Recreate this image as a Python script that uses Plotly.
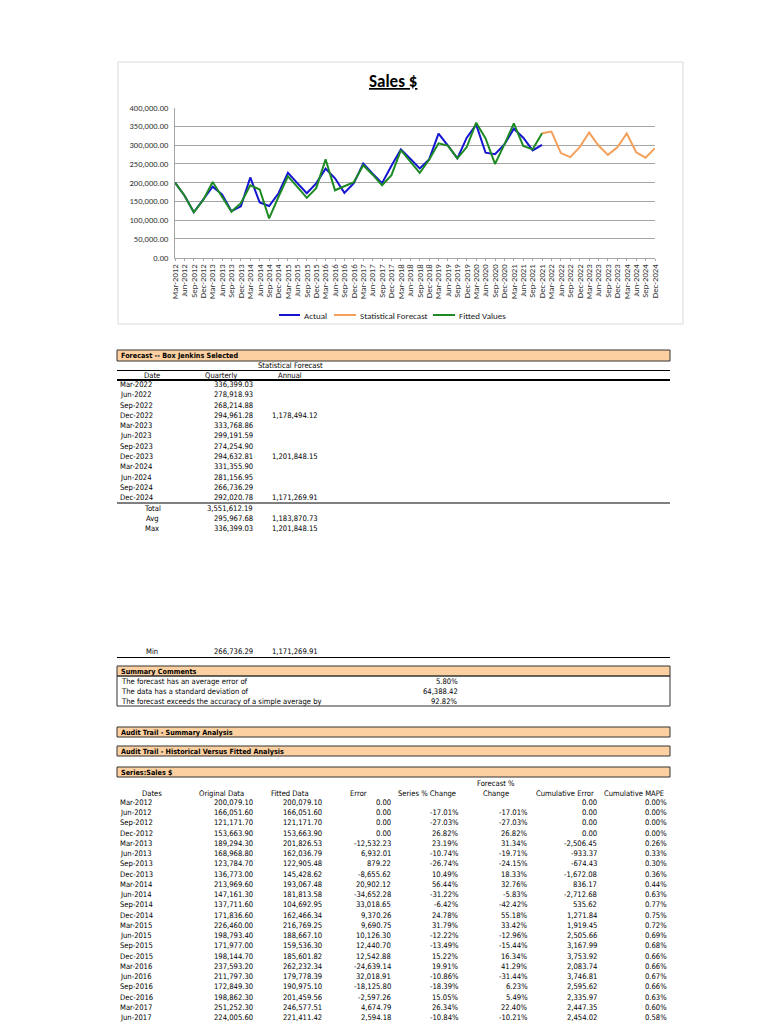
import plotly.graph_objects as go

# the page body adds an 8px margin, so the figure is 760x1016 and
# page coordinates are shifted by 8px when converted to paper units
OFF = 8
W, H = 760, 1016

# ---------------- chart data ----------------
quarters = [
    "Mar-2012", "Jun-2012", "Sep-2012", "Dec-2012",
    "Mar-2013", "Jun-2013", "Sep-2013", "Dec-2013",
    "Mar-2014", "Jun-2014", "Sep-2014", "Dec-2014",
    "Mar-2015", "Jun-2015", "Sep-2015", "Dec-2015",
    "Mar-2016", "Jun-2016", "Sep-2016", "Dec-2016",
    "Mar-2017", "Jun-2017", "Sep-2017", "Dec-2017",
    "Mar-2018", "Jun-2018", "Sep-2018", "Dec-2018",
    "Mar-2019", "Jun-2019", "Sep-2019", "Dec-2019",
    "Mar-2020", "Jun-2020", "Sep-2020", "Dec-2020",
    "Mar-2021", "Jun-2021", "Sep-2021", "Dec-2021",
    "Mar-2022", "Jun-2022", "Sep-2022", "Dec-2022",
    "Mar-2023", "Jun-2023", "Sep-2023", "Dec-2023",
    "Mar-2024", "Jun-2024", "Sep-2024", "Dec-2024",
]

actual = [
    200079.10, 166051.60, 121171.70, 153663.90,
    189294.30, 168968.80, 123784.70, 136773.00,
    213969.60, 147161.30, 137711.60, 171836.60,
    226460.00, 198793.40, 171977.00, 198144.70,
    237593.20, 211797.30, 172849.30, 198862.30,
    251252.30, 224005.60, 198663.00, 245000.00,
    289000.00, 264000.00, 238000.00, 262000.00,
    331000.00, 299000.00, 265000.00, 320000.00,
    355000.00, 280000.00, 276000.00, 302000.00,
    344000.00, 320000.00, 286000.00, 301000.00,
]

fitted = [
    200079.10, 166051.60, 121171.70, 153663.90,
    201826.53, 162036.79, 122905.48, 145428.62,
    193067.48, 181813.58, 104692.95, 162466.34,
    216769.25, 188667.10, 159536.30, 185601.82,
    262232.34, 179778.39, 190975.10, 201459.56,
    246577.51, 221411.42, 193312.45, 220000.00,
    287000.00, 258000.00, 226000.00, 261000.00,
    305000.00, 299000.00, 265000.00, 295000.00,
    360000.00, 318000.00, 250000.00, 302000.00,
    358000.00, 298000.00, 289000.00, 332000.00,
]

forecast = [
    336399.03, 278918.93, 268214.88, 294961.28,
    333768.86, 299191.59, 274254.90, 294632.81,
    331355.90, 281156.95, 266736.29, 292020.78,
]

series_names = ["Actual", "Statistical Forecast", "Fitted Values"]

# ---------------- forecast table data ----------------
fc_dates = quarters[40:]
fc_annual = ["", "", "", "1,178,494.12", "", "", "", "1,201,848.15", "", "", "", "1,171,269.91"]
fc_stats_labels = ["Total", "Avg", "Max"]
fc_stats_quarterly = ["3,551,612.19", "295,967.68", "336,399.03"]
fc_stats_annual = ["", "1,183,870.73", "1,201,848.15"]
fc_min = ["Min", "266,736.29", "1,171,269.91"]

summary_text = [
    "The forecast has an average error of",
    "The data has a standard deviation of",
    "The forecast exceeds the accuracy of a simple average by",
]
summary_vals = ["5.80%", "64,388.42", "92.82%"]

# ---------------- audit table data ----------------
audit_error = [0.00, 0.00, 0.00, 0.00, -12532.23, 6932.01, 879.22, -8655.62,
               20902.12, -34652.28, 33018.65, 9370.26, 9690.75, 10126.30, 12440.70,
               12542.88, -24639.14, 32018.91, -18125.80, -2597.26, 4674.79, 2594.18]
audit_series_pct = [None, -17.01, -27.03, 26.82, 23.19, -10.74, -26.74, 10.49, 56.44,
                    -31.22, -6.42, 24.78, 31.79, -12.22, -13.49, 15.22, 19.91, -10.86,
                    -18.39, 15.05, 26.34, -10.84]
audit_fc_pct = [None, -17.01, -27.03, 26.82, 31.34, -19.71, -24.15, 18.33, 32.76,
                -5.83, -42.42, 55.18, 33.42, -12.96, -15.44, 16.34, 41.29, -31.44,
                6.23, 5.49, 22.40, -10.21]
audit_cum_error = [0.00, 0.00, 0.00, 0.00, -2506.45, -933.37, -674.43, -1672.08, 836.17,
                   -2712.68, 535.62, 1271.84, 1919.45, 2505.66, 3167.99, 3753.92, 2083.74,
                   3746.81, 2595.62, 2335.97, 2447.35, 2454.02]
audit_mape = [0.00, 0.00, 0.00, 0.00, 0.26, 0.33, 0.30, 0.36, 0.44, 0.63, 0.77, 0.75,
              0.72, 0.69, 0.68, 0.66, 0.66, 0.67, 0.66, 0.63, 0.60, 0.58]
audit_headers = ["Dates", "Original Data", "Fitted Data", "Error", "Series % Change",
                 "Change", "Cumulative Error", "Cumulative MAPE"]

# ---------------- styling ----------------
BLUE = "#1414D2"
ORANGE = "#F5A05A"
GREEN = "#1E8A24"
COLORS = [BLUE, ORANGE, GREEN]
GRID = "#A6A6A6"
BAR_FILL = "#FCD0A1"
CHART_FONT = "Carlito, Calibri, Lato, sans-serif"
TABLE_FONT = "Liberation Sans Narrow, Arial Narrow, DejaVu Sans Condensed, sans-serif"
TSIZE = 7.6
BSIZE = 7.2


def px(x):
    return (x - OFF) / W


def py(y):
    return 1 - (y - OFF) / H


fig = go.Figure()
fig.add_trace(go.Scatter(x=quarters[:40], y=actual, name=series_names[0], mode="lines",
                         line=dict(color=BLUE, width=2)))
fig.add_trace(go.Scatter(x=quarters[39:], y=[fitted[-1]] + forecast,
                         name=series_names[1], mode="lines",
                         line=dict(color=ORANGE, width=2)))
fig.add_trace(go.Scatter(x=quarters[:40], y=fitted, name=series_names[2], mode="lines",
                         line=dict(color=GREEN, width=2)))

annotations = []
shapes = []


def text(x, y, s, anchor="left", bold=False, size=TSIZE, family=TABLE_FONT, color="#000"):
    if bold:
        s = "<b>" + s + "</b>"
    annotations.append(dict(x=px(x), y=py(y), xref="paper", yref="paper", text=s,
                            showarrow=False, xanchor=anchor, yanchor="middle",
                            font=dict(family=family, size=size, color=color)))


def hline(x0, x1, y, width=1, color="#000"):
    shapes.append(dict(type="line", xref="paper", yref="paper", x0=px(x0), x1=px(x1),
                       y0=py(y), y1=py(y), line=dict(color=color, width=width)))


def rect(x0, y0, x1, y1, fill=None, color="#000", width=1):
    shapes.append(dict(type="rect", xref="paper", yref="paper", x0=px(x0), x1=px(x1),
                       y0=py(y1), y1=py(y0), line=dict(color=color, width=width),
                       fillcolor=fill if fill else "rgba(0,0,0,0)", layer="below"))


# chart frame and title
rect(118, 62, 683, 324, color="#D9D9D9")
text(393, 82, "<u>Sales $</u>", anchor="center", bold=True, size=17, family=CHART_FONT)

# legend (drawn as line keys + labels)
legend_keys = [(279, 300), (334, 356), (433, 455)]
for (x0, x1), name, col in zip(legend_keys, series_names, COLORS):
    hline(x0, x1, 315, width=2, color=col)
    text(x1 + 2, 315, name, size=9, family=CHART_FONT, color="#222")

# ---------------- forecast table ----------------
L, R = 117, 670
rect(L, 350, R, 361, fill=BAR_FILL, color="#333")
text(119, 355.5, "Forecast -- Box Jenkins Selected", bold=True, size=BSIZE)
text(290, 365, "Statistical Forecast", anchor="center")
hline(L, R, 370.5, width=1)
text(152, 375, "Date", anchor="center")
text(221, 375, "Quarterly", anchor="center")
text(290, 375, "Annual", anchor="center")
hline(L, R, 380, width=2)

row0, dy = 384.5, 10.3
for i, d in enumerate(fc_dates):
    y = row0 + i * dy
    text(118, y, d)
    text(255, y, f"{forecast[i]:,.2f}", anchor="right")
    if fc_annual[i]:
        text(320, y, fc_annual[i], anchor="right")
hline(L, R, 503, width=1)
for j, lab in enumerate(fc_stats_labels):
    y = 508 + j * 10.3
    text(152, y, lab, anchor="center")
    text(255, y, fc_stats_quarterly[j], anchor="right")
    if fc_stats_annual[j]:
        text(320, y, fc_stats_annual[j], anchor="right")
text(152, 651, fc_min[0], anchor="center")
text(255, 651, fc_min[1], anchor="right")
text(320, 651, fc_min[2], anchor="right")
hline(L, R, 657.5, width=1)

# ---------------- summary comments ----------------
rect(L, 666, R, 676, fill=BAR_FILL, color="#333")
text(119, 671, "Summary Comments", bold=True, size=BSIZE)
rect(L, 676, R, 706, color="#333")
for k, (s, v) in enumerate(zip(summary_text, summary_vals)):
    y = 681 + k * 10
    text(119, y, s)
    text(460, y, v, anchor="right")

# ---------------- audit trail ----------------
rect(L, 727, R, 737, fill=BAR_FILL, color="#333")
text(119, 732, "Audit Trail - Summary Analysis", bold=True, size=BSIZE)
rect(L, 746, R, 756, fill=BAR_FILL, color="#333")
text(119, 751, "Audit Trail - Historical Versus Fitted Analysis", bold=True, size=BSIZE)
rect(L, 767, R, 777, fill=BAR_FILL, color="#333")
text(119, 772, "Series:Sales $", bold=True, size=BSIZE)

col_centers = [152, 221, 290, 358, 427, 496, 565, 634]
col_rights = [255, 324, 393, 461, 530, 599, 669]
text(496, 783, "Forecast %", anchor="center")
for c, h in zip(col_centers, audit_headers):
    text(c, 793, h, anchor="center")

arow0, ady = 802.5, 10.24
for i in range(len(audit_error)):
    y = arow0 + i * ady
    text(118, y, quarters[i])
    text(col_rights[0], y, f"{actual[i]:,.2f}", anchor="right")
    text(col_rights[1], y, f"{fitted[i]:,.2f}", anchor="right")
    text(col_rights[2], y, f"{audit_error[i]:,.2f}", anchor="right")
    if audit_series_pct[i] is not None:
        text(col_rights[3], y, f"{audit_series_pct[i]:.2f}%", anchor="right")
    if audit_fc_pct[i] is not None:
        text(col_rights[4], y, f"{audit_fc_pct[i]:.2f}%", anchor="right")
    text(col_rights[5], y, f"{audit_cum_error[i]:,.2f}", anchor="right")
    text(col_rights[6], y, f"{audit_mape[i]:.2f}%", anchor="right")

fig.update_layout(
    width=W, height=H,
    margin=dict(l=0, r=0, t=0, b=0),
    paper_bgcolor="white", plot_bgcolor="white",
    showlegend=False,
    xaxis=dict(domain=[px(175), px(655)], type="category", categoryorder="array",
               categoryarray=quarters, range=[0, 51], tickangle=-90, dtick=1,
               tickfont=dict(family=CHART_FONT, size=8.8, color="#333"),
               showgrid=False, showline=True, linecolor=GRID, ticks="outside",
               ticklen=2, tickcolor=GRID, automargin=False, zeroline=False),
    yaxis=dict(domain=[py(257.7), py(107.7)], range=[0, 400000], dtick=50000,
               tickformat=",.2f", gridcolor=GRID, gridwidth=1, showline=True,
               linecolor=GRID, tickfont=dict(family=CHART_FONT, size=8.5, color="#333"),
               ticklabelstandoff=4,
               automargin=False, zeroline=False, ticks=""),
    annotations=annotations,
    shapes=shapes,
)

fig.write_html("out.html")
